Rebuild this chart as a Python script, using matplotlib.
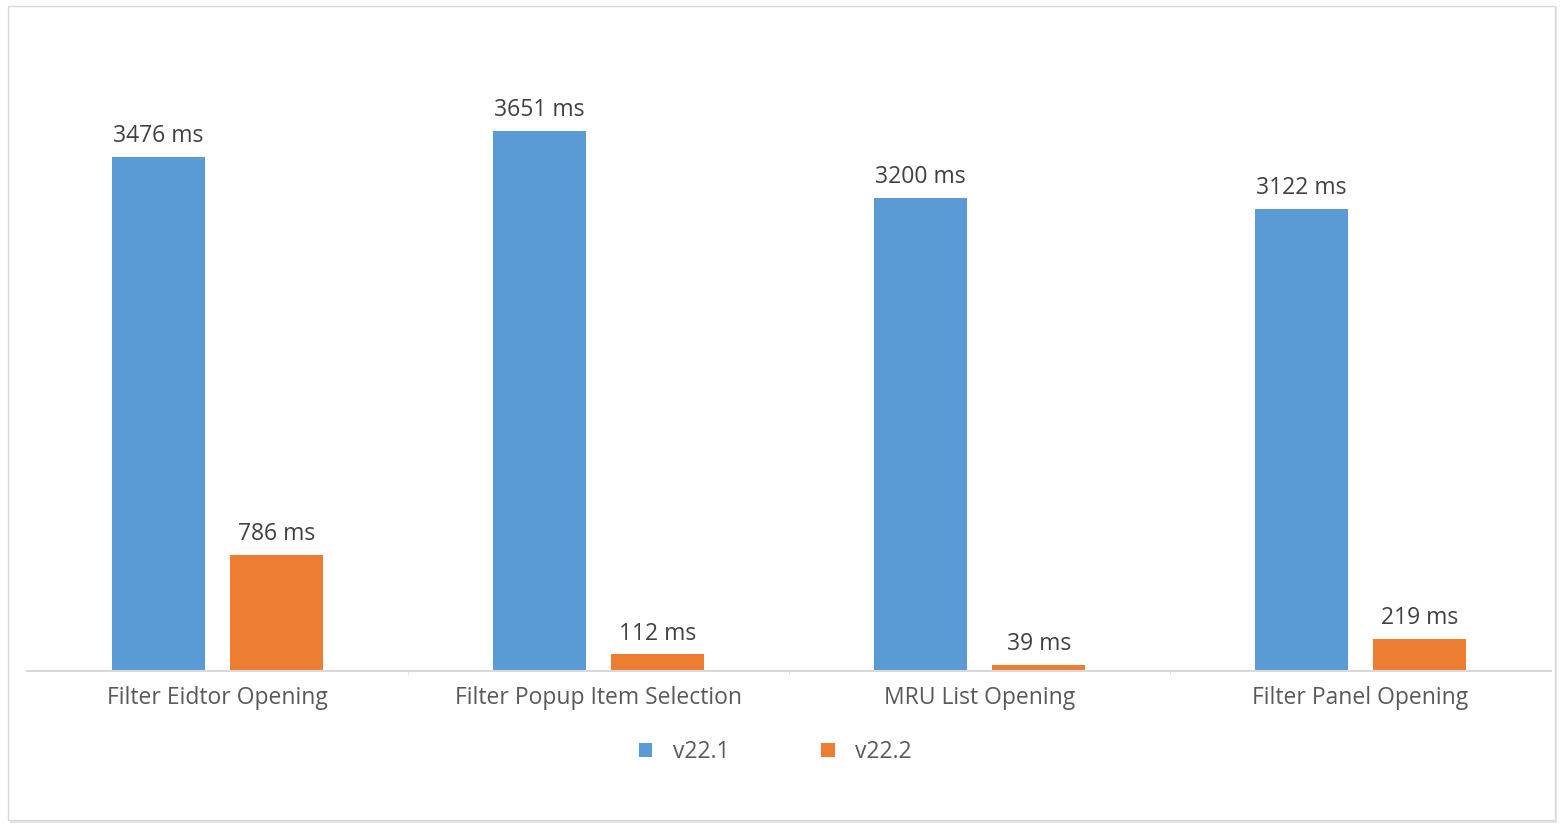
import matplotlib.pyplot as plt
import matplotlib.patches as mpatches
import numpy as np

categories = ["Filter Eidtor Opening", "Filter Popup Item Selection",
              "MRU List Opening", "Filter Panel Opening"]
v221 = [3476, 3651, 3200, 3122]
v222 = [786, 112, 39, 219]
series_names = ["v22.1", "v22.2"]

blue = "#5b9bd5"
orange = "#ed7d31"

plt.rcParams['font.family'] = ['Open Sans', 'DejaVu Sans']

fig = plt.figure(figsize=(15.6, 8.3), dpi=100)

# frame with soft shadow
shadow = mpatches.Rectangle((10/1560, 1-823/830), 1547/1560, 816/830,
                            transform=fig.transFigure, facecolor="#e6e6e6",
                            edgecolor="none", zorder=-2)
frame = mpatches.Rectangle((8/1560, 1-820/830), 1547/1560, 814/830,
                           transform=fig.transFigure, facecolor="white",
                           edgecolor="#d9d9d9", linewidth=1, zorder=-1)
fig.patches.extend([shadow, frame])

ax = fig.add_axes([27/1560, (830-671)/830, 1524/1560, 651/830])
ax.set_facecolor("none")
ax.set_zorder(2)

x = np.arange(len(categories))
w = 0.244
off = 0.156
b1 = ax.bar(x - off, v221, w, color=blue, label=series_names[0])
b2 = ax.bar(x + off, v222, w, color=orange, label=series_names[1])

for bars, vals in ((b1, v221), (b2, v222)):
    for r, v in zip(bars, vals):
        ax.text(r.get_x() + r.get_width()/2, v + 60, f"{v} ms",
                ha="center", va="bottom", fontsize=16.5, color="#404040")

ax.set_xlim(-0.5, len(categories) - 0.5)
ax.set_ylim(0, 4400)
ax.set_yticks([])
ax.set_xticks(x)
ax.set_xticklabels(categories, fontsize=16.5, color="#595959")
ax.tick_params(axis="x", length=0, pad=11)
ax.set_xticks(np.arange(1, len(categories)) - 0.5, minor=True)
ax.tick_params(axis="x", which="minor", length=3, color="#e0e0e0")
for s in ("top", "right", "left"):
    ax.spines[s].set_visible(False)
ax.spines["bottom"].set_color("#d9d9d9")
ax.spines["bottom"].set_linewidth(1.5)

leg = fig.legend(handles=[b1, b2], labels=series_names, loc="center",
                 bbox_to_anchor=(0.497, 1 - 752/830), ncol=2, frameon=False,
                 fontsize=16.5, labelcolor="#595959", handlelength=0.6,
                 handleheight=0.6, columnspacing=4.0, handletextpad=0.9)
leg.set_zorder(3)

fig.savefig("out.png", dpi=100)
